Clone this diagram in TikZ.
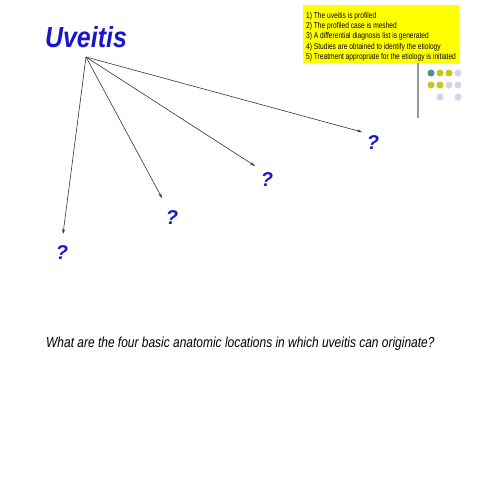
\documentclass[tikz,border=0pt]{standalone}
\usepackage{fontspec}
\setmainfont{Liberation Sans}
\newfontfamily\narrowfont[FakeStretch=0.78]{Liberation Sans}
\newfontfamily\titlefont[FakeStretch=0.86]{Liberation Sans}
\newfontfamily\askfont[FakeStretch=0.825]{Liberation Sans}
\usetikzlibrary{arrows.meta, positioning}

\definecolor{uvblue}{RGB}{24,24,200}
\definecolor{noteyellow}{RGB}{255,255,0}
\definecolor{dotteal}{RGB}{80,140,150}
\definecolor{dotolive}{RGB}{200,195,30}
\definecolor{dotlilac}{RGB}{212,212,234}

\begin{document}
\begin{tikzpicture}[
    x=1pt, y=-1pt,
    title/.style={font=\titlefont\bfseries\itshape\fontsize{29}{30}\selectfont, text=uvblue, inner sep=0pt},
    qmark/.style={font=\bfseries\itshape\fontsize{20}{20}\selectfont, text=uvblue, inner sep=0pt},
    notebox/.style={fill=noteyellow, draw=none, inner sep=0pt, anchor=north west},
    notetext/.style={font=\narrowfont\fontsize{8.5}{10.3}\selectfont, align=left, inner sep=0pt, anchor=north west},
    dot/.style={circle, inner sep=0pt, minimum size=7pt},
    link/.style={-{Stealth[length=5pt, width=3pt]}, line width=0.6pt, draw=black!80}
]
\useasboundingbox (0,0) rectangle (480,480);

% title and the five steps
\node[title] (uveitis) at (86,37) {Uveitis};
\coordinate (root) at (86,57);

\node[notebox, minimum width=156pt, minimum height=58pt] (stepsbg) at (303,5) {};
\node[notetext] (steps) at (306,12) {1) The uveitis is profiled\\
2) The profiled case is meshed\\
3) A differential diagnosis list is generated\\
4) Studies are obtained to identify the etiology\\
5) Treatment appropriate for the etiology is initiated};

% decoration: rule and dots
\draw[line width=1.5pt, draw=black!40] (418,63) -- (418,118);
\node[dot, fill=dotteal]  (d11) at (431,73) {};
\node[dot, fill=dotolive] (d12) at (440,73) {};
\node[dot, fill=dotolive] (d13) at (449,73) {};
\node[dot, fill=dotlilac] (d14) at (458,73) {};
\node[dot, fill=dotolive] (d21) at (431,85) {};
\node[dot, fill=dotolive] (d22) at (440,85) {};
\node[dot, fill=dotlilac] (d23) at (449,85) {};
\node[dot, fill=dotlilac] (d24) at (458,85) {};
\node[dot, fill=dotlilac] (d32) at (440,97) {};
\node[dot, fill=dotlilac] (d34) at (458,97) {};

% the four unknown locations, arrow tips stop short of them
\node[qmark] (q1) at (62,253) {?};
\node[qmark] (q2) at (172,218) {?};
\node[qmark] (q3) at (267,180) {?};
\node[qmark] (q4) at (373,143) {?};
\coordinate (t1) at (63,234);
\coordinate (t2) at (162,198);
\coordinate (t3) at (255,166);
\coordinate (t4) at (362,132);

\draw[link] (root) -- (t1);
\draw[link] (root) -- (t2);
\draw[link] (root) -- (t3);
\draw[link] (root) -- (t4);

\node[font=\askfont\itshape\fontsize{14.5}{15}\selectfont, inner sep=0pt, anchor=base west] (question) at (46,347)
    {What are the four basic anatomic locations in which uveitis can originate?};

\end{tikzpicture}
\end{document}
